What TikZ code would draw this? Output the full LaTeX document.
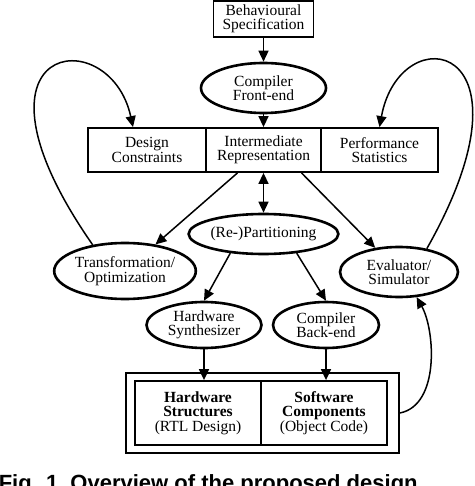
\documentclass[tikz,border=0pt]{standalone}
\usepackage{fontspec}
\setmainfont{Liberation Serif}
\newfontfamily\capfont{Liberation Sans}
\usetikzlibrary{shapes.geometric,arrows.meta}

\begin{document}
\begin{tikzpicture}[x=1pt,y=-1pt,>={Triangle[length=11pt,width=10pt]},line width=1.5pt]
\tikzstyle{every node}=[align=center,inner sep=0pt,font=\fontsize{15.5}{14.5}\selectfont]
\tikzstyle{blk}=[rectangle,draw,line width=1.8pt,minimum height=44pt]
\tikzstyle{proc}=[ellipse,draw,line width=2.6pt]
\useasboundingbox (0,0) rectangle (474,486);

\node[blk,minimum width=100pt,minimum height=36pt] (spec) at (263.5,19) {Behavioural\\Specification};
\node[proc,minimum width=125pt,minimum height=50pt] (cfe) at (263.5,88) {Compiler\\Front-end};

\node[blk,minimum width=118pt] (dc) at (147,150) {Design\\Constraints};
\node[blk,minimum width=115pt] (ir) at (263.5,150) {Intermediate\\Representation};
\node[blk,minimum width=117pt] (ps) at (379.5,150) {Performance\\Statistics};

\node[proc,minimum width=140pt,minimum height=40pt] (part) at (263.5,234) {(Re-)Partitioning};
\node[proc,minimum width=136pt,minimum height=56pt] (trans) at (125,271) {Transformation/\\Optimization};
\node[proc,minimum width=118pt,minimum height=50pt] (eval) at (399,272) {Evaluator/\\Simulator};
\node[proc,minimum width=115pt,minimum height=46pt] (hw) at (204,325) {Hardware\\Synthesizer};
\node[proc,minimum width=106pt,minimum height=46pt] (cbe) at (326,325) {Compiler\\Back-end};

\node[blk,minimum width=273pt,minimum height=80pt] (out) at (262.5,413) {};
\node[blk,minimum width=126pt,minimum height=64pt] (hws) at (198,413) {\textbf{Hardware}\\\textbf{Structures}\\(RTL Design)};
\node[blk,minimum width=126pt,minimum height=64pt] (swc) at (324,413) {\textbf{Software}\\\textbf{Components}\\(Object Code)};

\node[anchor=base west,font=\capfont\bfseries\fontsize{22}{22}\selectfont] (cap) at (-2,490) {Fig. 1\ \ Overview of the proposed design};

\draw[->] (spec) -- (cfe);
\draw[->] (cfe) -- (ir);
\draw[<->] (ir) -- (part);
\draw[->] ([xshift=-26pt]ir.south) -- (trans);
\draw[->] ([xshift=38pt]ir.south) -- (eval);
\draw[->] (part.210) -- (hw.north);
\draw[->] (part.-30) -- (cbe.north);
\draw[->] (hw.south) -- (hw.south |- hws.north);
\draw[->] (cbe.south) -- (cbe.south |- swc.north);

% feedback loops
\draw[->] (trans.141) .. controls (-50,40) and (110,20) .. ([xshift=-14pt]dc.north);
\draw[->] (eval.40) .. controls (545,40) and (400,15) .. (ps.north);
\draw[->] (out.east) .. controls (440,405) and (435,330) .. (eval.-55);
\end{tikzpicture}
\end{document}
